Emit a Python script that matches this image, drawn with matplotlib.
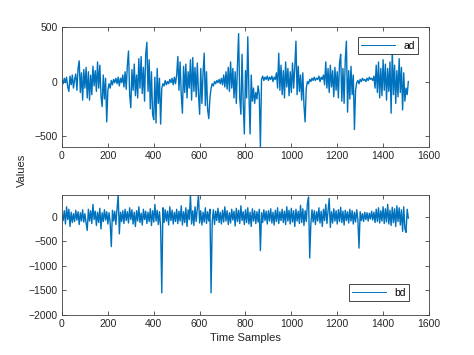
import numpy as np
import matplotlib
matplotlib.use("Agg")
import matplotlib.pyplot as plt

plt.rcParams['font.family'] = ['Liberation Sans', 'DejaVu Sans']

# sample step of the values below (every 5th time sample)
step = 5

ad = [
    10, -20, 30, -10, 40, -50, -90, 50, -30, 60, -60, 20, 70, -80, 120, 190, -100, 80, -170, 110,
    -60, 130, -150, 90, -170, 60, -120, 140, -40, 100, -90, 180, -60, 150, -130, -230, 60, -160, 30, -370,
    -80, -20, -60, 10, -30, 20, -10, 30, -20, 40, -40, 30, -10, 60, -50, 90, -70, 150, 280, -120,
    -240, 110, -80, 160, -130, 60, -150, 210, -60, 230, -110, 130, -180, 250, 360, -90, 200, -250, 90, -300,
    -350, 40, -380, 120, -200, 30, -390, -60, -20, -40, 10, -30, 0, -20, 20, -10, 30, -30, 40, -20,
    60, 230, -80, 180, -120, -290, 140, -100, 160, -150, 90, -60, 200, -170, 220, -90, 130, -140, 170, -110,
    -300, 120, -200, 80, 260, -220, 90, -260, -340, -150, -60, -20, -40, 0, -20, 10, -10, 20, -20, 30,
    -30, 60, -50, 90, -70, 130, -90, 180, -60, 120, -150, 90, -200, 150, 440, -150, -300, 250, -200, -480,
    100, -150, 410, -100, -480, 60, -180, -60, -200, -100, -160, -40, -120, -600, 20, 50, 10, 40, 20, 50,
    10, 40, 20, 50, 0, 40, 20, 80, -60, 260, -80, 150, -120, 100, -150, 180, -50, 120, -130, 90,
    -100, 170, -60, 130, 370, -120, 140, -90, 60, -170, 80, -220, -370, -60, 0, -20, 20, 0, 30, 10,
    40, 10, 30, 20, 50, 0, 40, 20, 60, -30, 180, -60, 120, -100, 150, -50, 100, -140, 130, -80,
    90, -150, 170, 250, -180, 120, -200, 200, 370, -280, 100, -160, 140, -120, 60, -440, -80, -10, 10, -20,
    20, 0, 30, 10, 20, 0, 30, 10, 40, 20, 30, 10, 50, -60, 150, -100, 180, -150, 120, -130,
    200, -80, 160, -170, 120, -90, 180, -290, 290, -120, 150, -200, 100, -140, 210, -100, 130, -260, 80, -180,
    -60, -120, 0,
]

bd = [
    20, -80, 120, -150, 200, -60, 150, -200, 90, -120, 60, -100, 130, -70, 100, -160, 80, -90, 140, -110,
    60, -130, -280, 150, -90, 120, -140, 250, -60, 110, -180, 90, -120, 170, -250, 80, -100, 140, -70, 100,
    -150, 80, -120, -610, 130, -90, 110, -160, 160, 440, -350, 90, -100, 120, -140, 150, -80, 100, -130, 180,
    -60, 140, -150, 90, -200, 120, -90, 200, -120, 70, -170, 150, -60, 110, -140, 90, -100, 160, -180, 120,
    -110, 250, -90, 130, -160, 100, -200, -1550, 180, -120, 140, -90, 110, -170, 200, -80, 130, -150, 90, -100,
    150, -140, 110, -90, 220, -170, 100, -120, 180, -200, 140, -60, 440, -150, 120, -180, 200, -100, 160, 440,
    -130, 120, -170, 90, -110, 180, -140, 100, -90, 150, -1550, -100, 140, -160, 110, -80, 170, -120, 90, -150,
    130, -110, 200, -90, 120, -160, 80, -130, 150, -70, 110, -190, 170, -100, 130, -140, 220, -80, 100, -160,
    140, -120, 180, -150, 90, -200, 160, -90, 120, -140, 100, -110, 150, -690, 80, -120, 140, -80, 110, -150,
    120, -90, 160, -130, 90, -170, 130, -100, 180, -140, 100, -80, 150, -120, 110, -160, 200, -90, 130, -150,
    170, -110, 120, -200, 150, -90, 110, -140, 230, -120, 160, -180, 120, -100, 260, 400, -840, -150, 140, -110,
    120, -160, 100, -90, 180, -130, 110, -200, 150, -80, 250, -140, 120, 370, -220, 100, -130, 160, -90, 120,
    -150, 140, -100, 190, -120, 110, -170, 130, -80, 100, -130, 150, -90, 120, -150, 90, -110, 140, -60, -640,
    100, -80, 60, -100, 90, -60, 80, -90, 70, -50, 110, -70, 90, -120, 150, -100, 180, -130, 120, -90,
    200, -140, 160, -110, 250, -150, 130, -180, 190, -120, 160, -200, 220, -100, 180, -170, 140, -300, 200, -250,
    -320, 150, -30,
]

labels = ['ad', 'bd']
xticks = [0, 200, 400, 600, 800, 1000, 1200, 1400, 1600]
top_yticks = [-500, 0, 500]
bot_yticks = [-2000, -1500, -1000, -500, 0]

color = '#0072BD'
edge = '#404040'

fig = plt.figure(figsize=(4.74, 3.55), dpi=100)
ax1 = fig.add_axes([0.1308, 0.5859, 0.905 - 0.1308, 0.9239 - 0.5859])
ax2 = fig.add_axes([0.1308, 0.1127, 0.905 - 0.1308, 0.4507 - 0.1127])

t1 = np.arange(len(ad)) * step
t2 = np.arange(len(bd)) * step

ax1.plot(t1, ad, color=color, lw=1.0, label=labels[0])
ax2.plot(t2, bd, color=color, lw=1.0, label=labels[1])

ax1.set_xlim(0, 1600)
ax1.set_ylim(-600, 500)
ax1.set_yticks(top_yticks)
ax2.set_xlim(0, 1600)
ax2.set_ylim(-2000, 440)
ax2.set_yticks(bot_yticks)

for ax in (ax1, ax2):
    ax.set_xticks(xticks)
    ax.tick_params(direction='in', length=3, width=0.6, colors=edge,
                   labelsize=7.5, labelcolor='#262626', top=True, right=True, pad=3)
    for s in ax.spines.values():
        s.set_color(edge)
        s.set_linewidth(0.6)

leg1 = ax1.legend(loc='upper right', fontsize=7.5, frameon=True, fancybox=False,
                  edgecolor='#262626', handlelength=3.2, borderpad=0.35,
                  bbox_to_anchor=(0.985, 0.96), framealpha=1)
leg1.get_frame().set_linewidth(0.6)
for l in leg1.get_lines():
    l.set_linewidth(0.7)
leg2 = ax2.legend(loc='lower right', fontsize=7.5, frameon=True, fancybox=False,
                  edgecolor='#262626', handlelength=3.2, borderpad=0.35,
                  bbox_to_anchor=(0.96, 0.07), framealpha=1)
leg2.get_frame().set_linewidth(0.6)
for l in leg2.get_lines():
    l.set_linewidth(0.7)

fig.text(0.047, 0.52, 'Values', rotation=90, ha='center', va='center',
         fontsize=8, color='#262626')
ax2.set_xlabel('Time Samples', fontsize=8, color='#262626', labelpad=3)

fig.savefig('out.png', dpi=100)
